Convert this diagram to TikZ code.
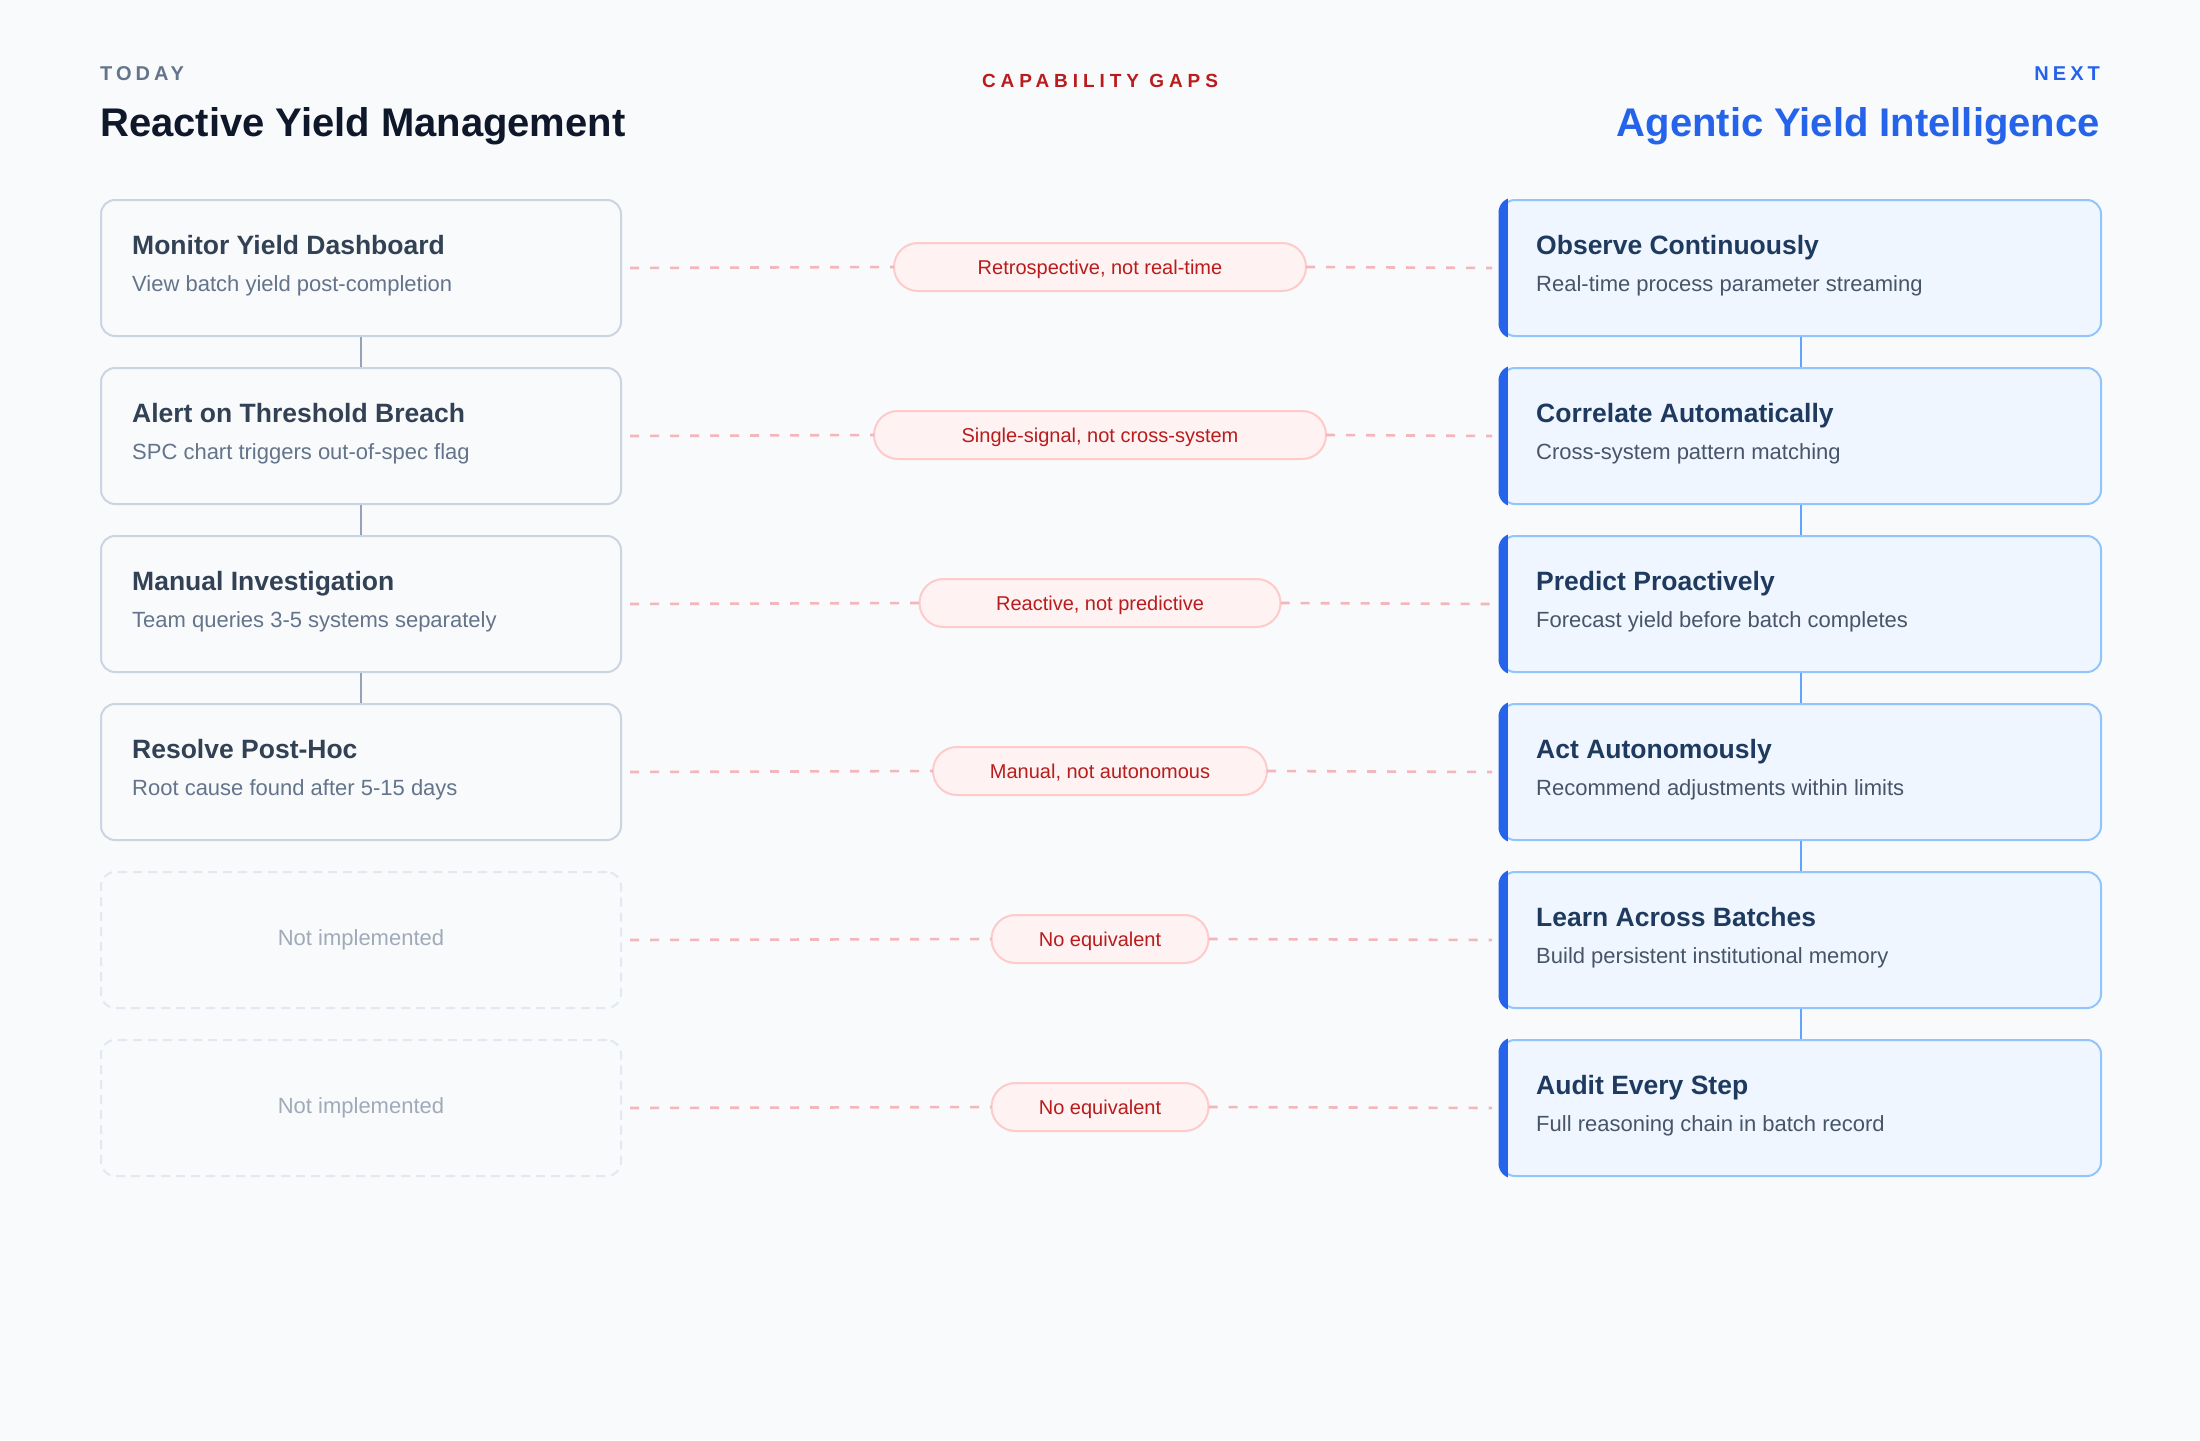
\documentclass[tikz,border=0pt]{standalone}
\usepackage{fontspec}
\setmainfont{Liberation Sans}
\newfontfamily\spacedfont[LetterSpace=20]{Liberation Sans}
\newfontfamily\gapsfont[LetterSpace=26]{Liberation Sans}
\usetikzlibrary{calc}
\definecolor{bg}{HTML}{F8FAFC}
\definecolor{slate}{HTML}{64748B}
\definecolor{navy}{HTML}{0F172A}
\definecolor{accent}{HTML}{2563EB}
\definecolor{gapred}{HTML}{B91C1C}
\definecolor{lborder}{HTML}{CBD5E1}
\definecolor{lfill}{HTML}{F8FAFC}
\definecolor{ltitlec}{HTML}{334155}
\definecolor{lsubc}{HTML}{64748B}
\definecolor{lconnc}{HTML}{94A3B8}
\definecolor{niborder}{HTML}{E2E8F0}
\definecolor{nitext}{HTML}{A0AAB8}
\definecolor{rfill}{HTML}{EFF6FF}
\definecolor{rborder}{HTML}{93C5FD}
\definecolor{rtitlec}{HTML}{1E3A5F}
\definecolor{rsubc}{HTML}{475569}
\definecolor{rconnc}{HTML}{60A5FA}
\definecolor{pillfill}{HTML}{FEF2F2}
\definecolor{pillborder}{HTML}{FECACA}
\definecolor{gapdash}{HTML}{F4B6BD}

\newcommand\LBox[4]{%
  \node[lbox] (#1) at (100,#2) {};
  \node[ltitle] (#1t) at ($(#1.north west)+(32,55)$) {#3};
  \node[lsub] (#1s) at ($(#1.north west)+(32,92)$) {#4};
}
\newcommand\NIBox[2]{%
  \node[nibox] (#1) at (100,#2) {Not implemented};
}
\newcommand\RBox[4]{%
  \node[rbox] (#1) at (1500,#2) {};
  \begin{scope}
    \clip[rounded corners=15pt] ($(#1.north west)+(-1.5,-1.5)$) rectangle ($(#1.south east)+(1.5,1.5)$);
    \fill[accent] ($(#1.north west)+(-2,-2)$) rectangle ($(#1.south west)+(8,2)$);
  \end{scope}
  \node[rtitle] (#1t) at ($(#1.north west)+(36,55)$) {#3};
  \node[rsub] (#1s) at ($(#1.north west)+(36,92)$) {#4};
}
\newcommand\GapPill[4]{%
  \node[pill, minimum width=#3] (#1) at (1100,#2) {#4};
}

\begin{document}
\begin{tikzpicture}[x=1pt,y=-1pt,
  lbox/.style={draw=lborder, line width=2pt, fill=lfill, rounded corners=14pt,
    minimum width=520pt, minimum height=136pt, inner sep=0pt, anchor=north west},
  nibox/.style={draw=niborder, line width=2pt, dash pattern=on 9pt off 6pt, fill=bg,
    rounded corners=14pt, minimum width=520pt, minimum height=136pt, inner sep=0pt,
    anchor=north west, text=nitext, font=\fontsize{22}{26}\selectfont},
  rbox/.style={draw=rborder, line width=2pt, fill=rfill, rounded corners=14pt,
    minimum width=600pt, minimum height=136pt, inner sep=0pt, anchor=north west},
  ltitle/.style={anchor=base west, inner sep=0pt, text=ltitlec,
    font=\bfseries\fontsize{26.5}{31}\selectfont},
  lsub/.style={anchor=base west, inner sep=0pt, text=lsubc,
    font=\fontsize{22}{26}\selectfont},
  rtitle/.style={anchor=base west, inner sep=0pt, text=rtitlec,
    font=\bfseries\fontsize{26.5}{31}\selectfont},
  rsub/.style={anchor=base west, inner sep=0pt, text=rsubc,
    font=\fontsize{22}{26}\selectfont},
  pill/.style={draw=pillborder, fill=pillfill, line width=2pt, rounded corners=23.9pt,
    minimum height=48pt, inner sep=0pt, text=gapred, text height=14.5pt, text depth=0pt,
    font=\fontsize{20}{24}\selectfont},
  gapline/.style={draw=gapdash, line width=2.6pt, dash pattern=on 9pt off 11pt},
  lconn/.style={draw=lconnc, line width=2.2pt},
  rconn/.style={draw=rconnc, line width=2.2pt},
  kicker/.style={inner sep=0pt, font=\fontsize{20}{24}\spacedfont\bfseries},
  bigtitle/.style={inner sep=0pt, font=\bfseries\fontsize{40}{48}\selectfont}
]
\fill[bg] (0,0) rectangle (2200,1440);
\useasboundingbox (0,0) rectangle (2200,1440);

% headers
\node[kicker, anchor=base west, text=slate] (today) at (100,80) {TODAY};
\node[bigtitle, anchor=base west, text=navy] (ltitle) at (100,136) {Reactive Yield Management};
\node[kicker, anchor=base, text=gapred, font=\fontsize{19}{23}\gapsfont\bfseries] (gaps) at (1100,87) {CAPABILITY GAPS};
\node[kicker, anchor=base east, text=accent] (next) at (2100,80) {NEXT};
\node[bigtitle, anchor=base east, text=accent] (rtitle) at (2100,136) {Agentic Yield Intelligence};

% left column
\LBox{l1}{199}{Monitor Yield Dashboard}{View batch yield post-completion}
\LBox{l2}{367}{Alert on Threshold Breach}{SPC chart triggers out-of-spec flag}
\LBox{l3}{535}{Manual Investigation}{Team queries 3-5 systems separately}
\LBox{l4}{703}{Resolve Post-Hoc}{Root cause found after 5-15 days}
\NIBox{l5}{871}
\NIBox{l6}{1039}

\draw[lconn] (l1.south) -- (l2.north);
\draw[lconn] (l2.south) -- (l3.north);
\draw[lconn] (l3.south) -- (l4.north);

% right column
\RBox{r1}{199}{Observe Continuously}{Real-time process parameter streaming}
\RBox{r2}{367}{Correlate Automatically}{Cross-system pattern matching}
\RBox{r3}{535}{Predict Proactively}{Forecast yield before batch completes}
\RBox{r4}{703}{Act Autonomously}{Recommend adjustments within limits}
\RBox{r5}{871}{Learn Across Batches}{Build persistent institutional memory}
\RBox{r6}{1039}{Audit Every Step}{Full reasoning chain in batch record}

\draw[rconn] (r1.south) -- (r2.north);
\draw[rconn] (r2.south) -- (r3.north);
\draw[rconn] (r3.south) -- (r4.north);
\draw[rconn] (r4.south) -- (r5.north);
\draw[rconn] (r5.south) -- (r6.north);

% gap pills
\GapPill{g1}{267}{412pt}{Retrospective, not real-time}
\GapPill{g2}{435}{452pt}{Single-signal, not cross-system}
\GapPill{g3}{603}{361pt}{Reactive, not predictive}
\GapPill{g4}{771}{334pt}{Manual, not autonomous}
\GapPill{g5}{939}{217pt}{No equivalent}
\GapPill{g6}{1107}{217pt}{No equivalent}

\foreach \i in {1,...,6}{
  \draw[gapline] ([xshift=8pt]l\i.east) -- ([xshift=1pt]g\i.west);
  \draw[gapline] ([xshift=-1pt]g\i.east) -- ([xshift=-8pt]r\i.west);
}
\end{tikzpicture}
\end{document}
